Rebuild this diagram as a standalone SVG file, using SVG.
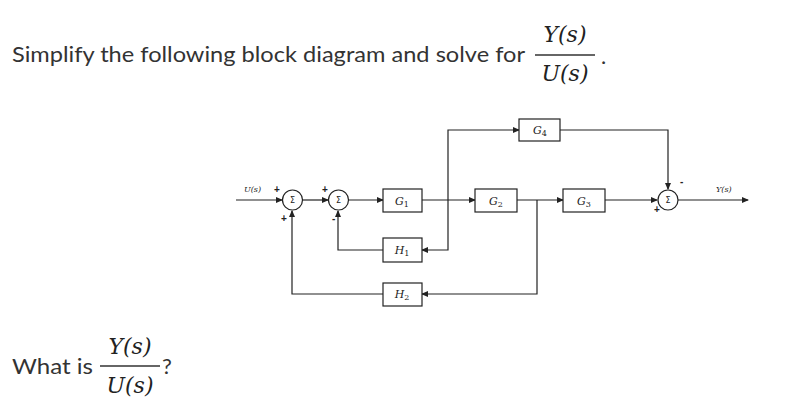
<svg xmlns="http://www.w3.org/2000/svg" width="789" height="405" viewBox="0 0 789 405">
<style>
.t{font-family:Lato,"Open Sans",sans-serif;font-size:22px;fill:#333}
.m{font-family:"DejaVu Serif","Liberation Serif",serif;font-style:italic;fill:#222}
.b{fill:#fff;stroke:#222;stroke-width:1.2}
.l{fill:none;stroke:#222;stroke-width:1.2}
.s{font-family:"DejaVu Sans",sans-serif;font-size:8px;fill:#222}
.p{font-family:"Liberation Sans",sans-serif;font-size:10px;font-weight:bold;fill:#222}
</style>
<defs><marker id="a" markerWidth="7" markerHeight="6" refX="6" refY="3" orient="auto" markerUnits="userSpaceOnUse"><path d="M0,0 L7,3 L0,6z" fill="#222"/></marker></defs>
<rect width="789" height="405" fill="#fff"/>
<text class="t" x="12" y="62" textLength="513" lengthAdjust="spacingAndGlyphs">Simplify the following block diagram and solve for</text>
<text class="m" x="565" y="42" font-size="22" text-anchor="middle">Y(s)</text>
<line x1="535" y1="55" x2="595" y2="55" stroke="#333" stroke-width="1.5"/>
<text class="m" x="565" y="81" font-size="22" text-anchor="middle">U(s)</text>
<text class="t" x="601" y="64">.</text>
<text class="t" x="12" y="374" textLength="81" lengthAdjust="spacingAndGlyphs">What is</text>
<text class="m" x="130" y="354" font-size="22" text-anchor="middle">Y(s)</text>
<line x1="100" y1="366" x2="160" y2="366" stroke="#333" stroke-width="1.5"/>
<text class="m" x="130" y="393" font-size="22" text-anchor="middle">U(s)</text>
<text class="t" x="162" y="374">?</text>
<g id="connectors" class="l">
<path d="M236,200 H282" marker-end="url(#a)"/>
<path d="M303,200 H328" marker-end="url(#a)"/>
<path d="M349,200 H383" marker-end="url(#a)"/>
<path d="M422,200 H475" marker-end="url(#a)"/>
<path d="M517,200 H563" marker-end="url(#a)"/>
<path d="M605,200 H657" marker-end="url(#a)"/>
<path d="M678,200 H748" marker-end="url(#a)"/>
<path d="M448,200 V130 H519" marker-end="url(#a)"/>
<path d="M560,130 H668 V189" marker-end="url(#a)"/>
<path d="M448,200 V250 H422" marker-end="url(#a)"/>
<path d="M383,250 H338 V211" marker-end="url(#a)"/>
<path d="M537,200 V294 H422" marker-end="url(#a)"/>
<path d="M383,294 H292 V211" marker-end="url(#a)"/>
</g>
<g id="sum1"><circle class="b" cx="292.5" cy="200" r="10"/><text class="s" x="292.5" y="203" text-anchor="middle">Σ</text></g>
<g id="sum2"><circle class="b" cx="338.5" cy="200" r="10"/><text class="s" x="338.5" y="203" text-anchor="middle">Σ</text></g>
<g id="sum3"><circle class="b" cx="668" cy="200" r="10"/><text class="s" x="668" y="203" text-anchor="middle">Σ</text></g>
<g id="G1"><rect class="b" x="383" y="189" width="39" height="23"/><text class="m" x="402" y="205" font-size="11" text-anchor="middle">G<tspan font-size="8" dy="2" font-style="normal">1</tspan></text></g>
<g id="G2"><rect class="b" x="475" y="189" width="42" height="23"/><text class="m" x="496" y="205" font-size="11" text-anchor="middle">G<tspan font-size="8" dy="2" font-style="normal">2</tspan></text></g>
<g id="G3"><rect class="b" x="563" y="189" width="42" height="23"/><text class="m" x="584" y="205" font-size="11" text-anchor="middle">G<tspan font-size="8" dy="2" font-style="normal">3</tspan></text></g>
<g id="G4"><rect class="b" x="519" y="119" width="41" height="22"/><text class="m" x="540" y="134" font-size="11" text-anchor="middle">G<tspan font-size="8" dy="2" font-style="normal">4</tspan></text></g>
<g id="H1"><rect class="b" x="383" y="238" width="39" height="24"/><text class="m" x="402" y="254" font-size="11" text-anchor="middle">H<tspan font-size="8" dy="2" font-style="normal">1</tspan></text></g>
<g id="H2"><rect class="b" x="383" y="283" width="39" height="23"/><text class="m" x="402" y="298" font-size="11" text-anchor="middle">H<tspan font-size="8" dy="2" font-style="normal">2</tspan></text></g>
<g id="labels">
<text class="m" x="244" y="192" font-size="8">U(s)</text>
<text class="m" x="716" y="192" font-size="8">Y(s)</text>
<text class="p" x="274" y="193">+</text>
<text class="p" x="322" y="193">+</text>
<text class="p" x="281" y="222">+</text>
<text class="p" x="332" y="222">-</text>
<text class="p" x="680" y="185">-</text>
<text class="p" x="654" y="213">+</text>
</g>
</svg>
